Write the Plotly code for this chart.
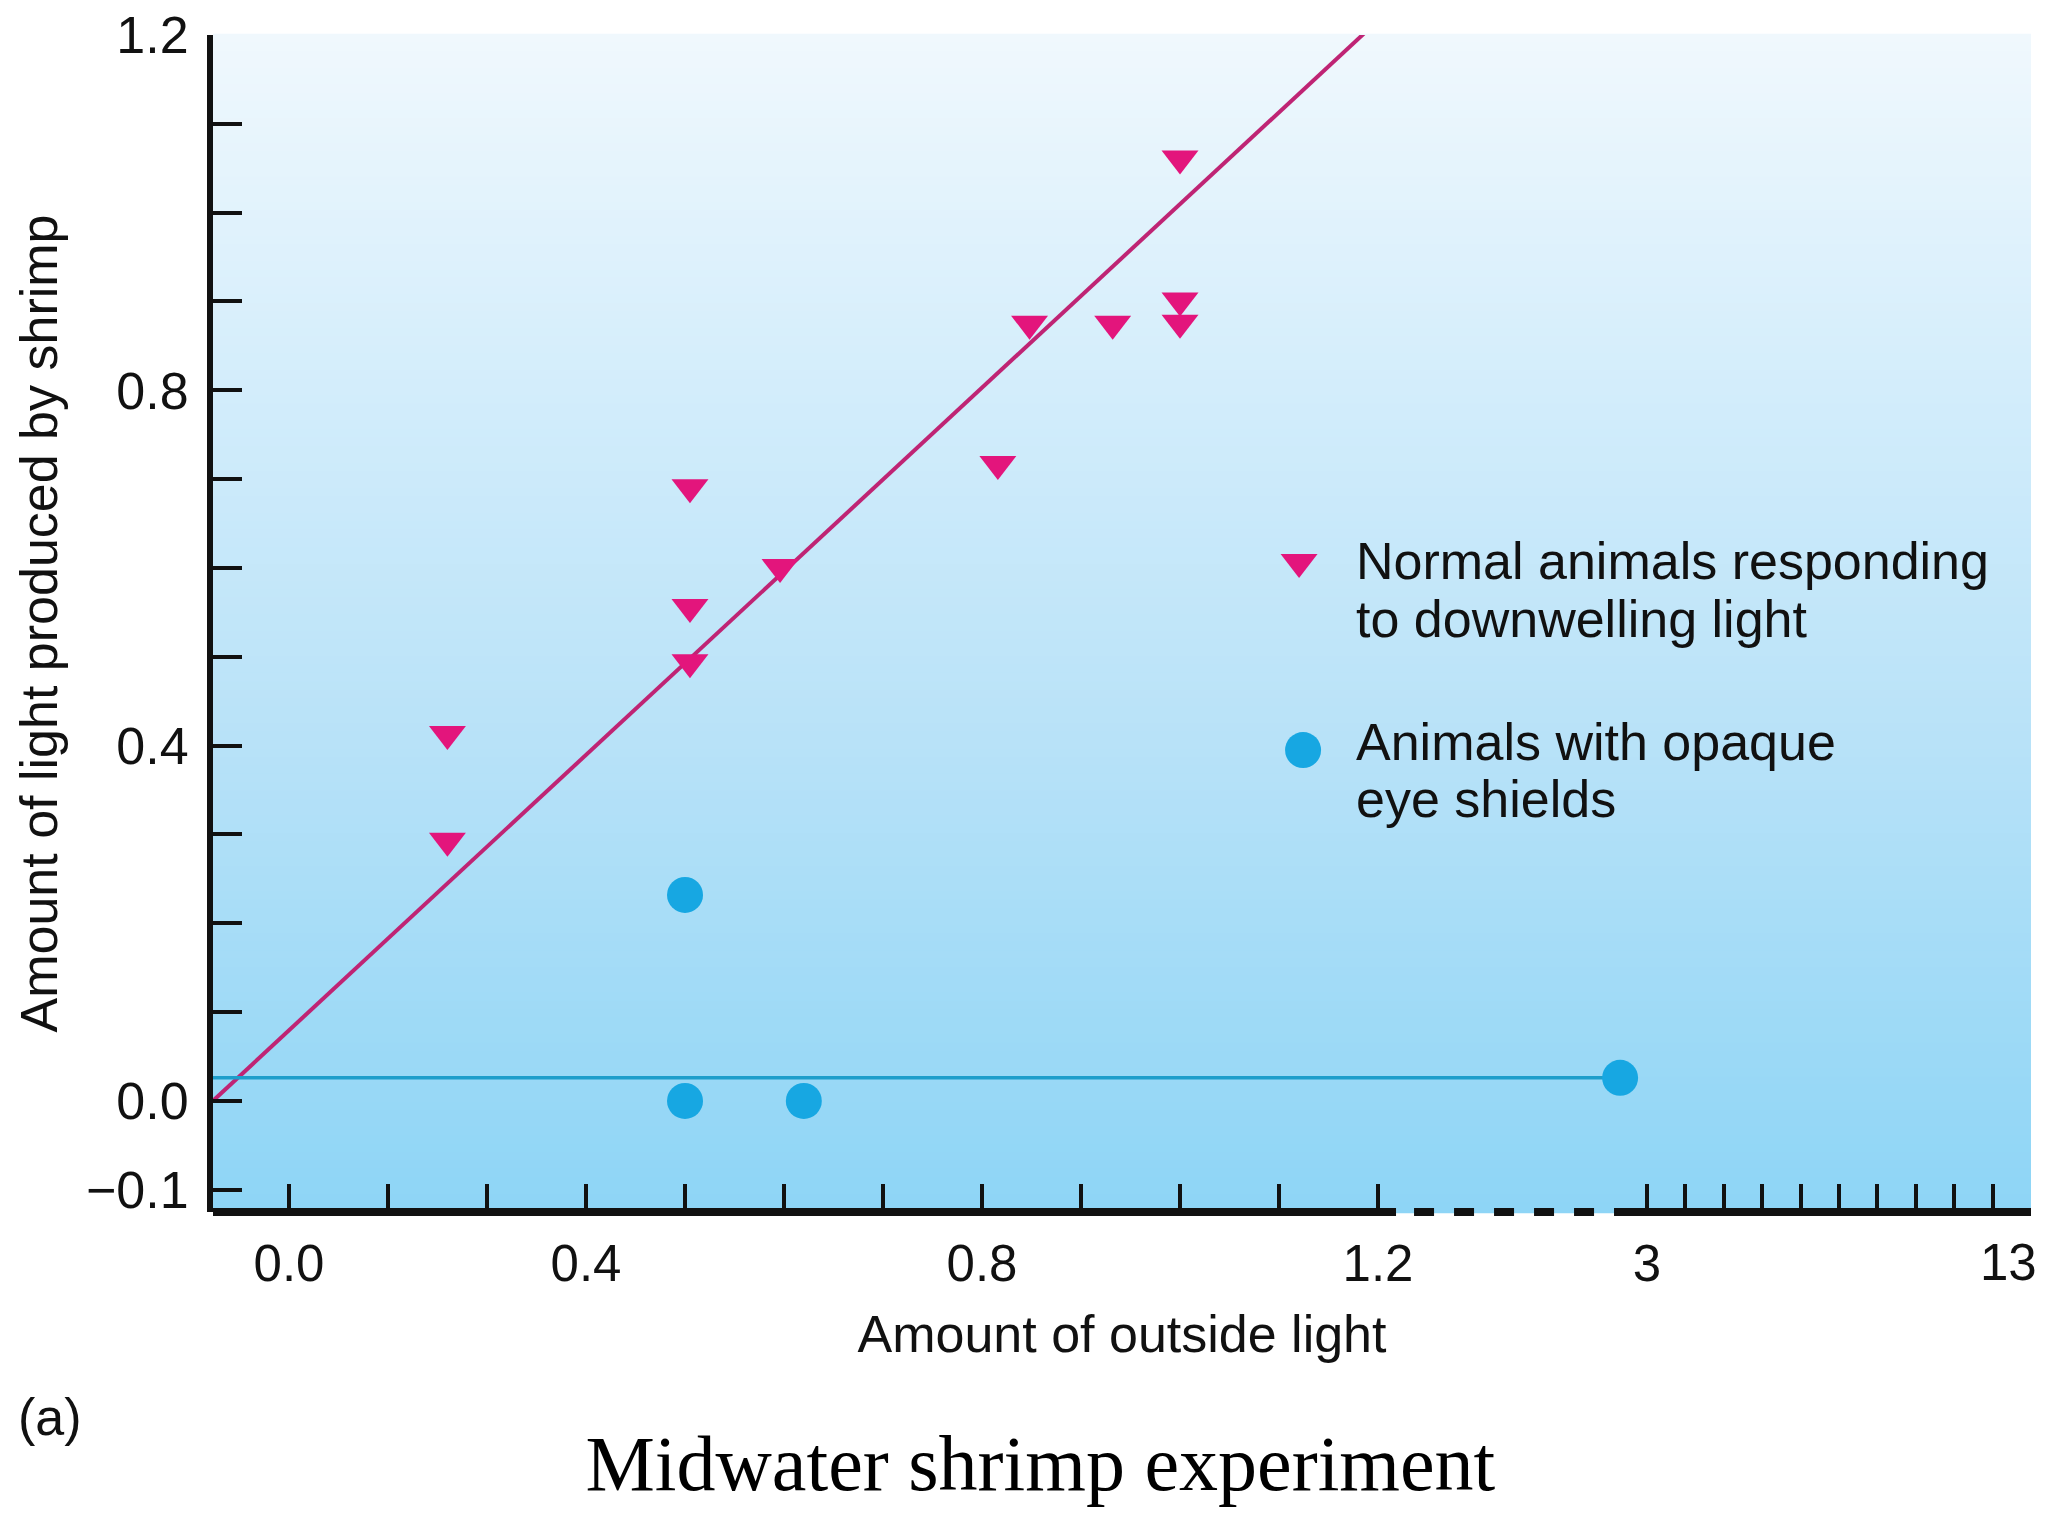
import plotly.graph_objects as go

# ---------------- data ----------------
# x: amount of outside light, y: amount of light produced by shrimp
normal_x = [0.26, 0.26, 0.505, 0.505, 0.505, 0.596, 0.816, 0.848, 0.932, 1.0, 1.0, 1.0]
normal_y = [0.413, 0.293, 0.691, 0.556, 0.494, 0.601, 0.717, 0.875, 0.875, 1.061, 0.901, 0.876]

shield_x = [0.50, 0.50, 0.62, 2.3]
shield_y = [0.232, 0.0, 0.0, 0.026]

normal_fit_x = [0.023, 1.191]
normal_fit_y = [0.0, 1.207]
shield_fit_x = [0.023, 2.3]
shield_fit_y = [0.026, 0.026]

x_tick_values = [0.1, 0.2, 0.3, 0.4, 0.5, 0.6, 0.7, 0.8, 0.9, 1.0, 1.1, 1.2,
                 3, 4, 5, 6, 7, 8, 9, 10, 11, 12, 13]
x_tick_labels = ["0.0", "", "", "0.4", "", "", "", "0.8", "", "", "", "1.2",
                 "3", "", "", "", "", "", "", "", "", "", ""]
x_last_label = "13"   # drawn beside the last tick so it stays inside the page
y_tick_values = [-0.1, 0.0, 0.1, 0.2, 0.3, 0.4, 0.5, 0.6, 0.7, 0.8, 0.9, 1.0, 1.1, 1.2]
y_tick_labels = ["\u22120.1", "0.0", "", "", "", "0.4", "", "", "", "0.8", "", "", "", "1.2"]

legend_labels = [["Normal animals responding", "to downwelling light"],
                 ["Animals with opaque", "eye shields"]]

# ---------------- broken x-axis scale ----------------
X_MIN, X_MAX = 0.0232, 1.8596          # axis position range
LOW_END = 1.2                          # linear part 0 .. 1.2
HIGH_START, HIGH_START_POS, HIGH_UNIT = 3.0, 1.4717, 0.038788  # compressed part 3 .. 13
BREAK_START, DASH_START, BREAK_END = 1.2182, 1.2364, 1.4384


def to_axis(v):
    return v if v <= 2.0 else HIGH_START_POS + (v - HIGH_START) * HIGH_UNIT


def ax_list(vals):
    return [to_axis(v) for v in vals]


def paper_x(pos):
    return (pos - X_MIN) / (X_MAX - X_MIN)


PINK = "#e3157c"
PINK_LINE = "#bf2474"
CYAN = "#17a7e2"
CYAN_LINE = "#1d9ecb"
INK = "#111111"
SANS = "Liberation Sans, Arial, Helvetica, sans-serif"
SERIF = "Liberation Serif, Times New Roman, serif"

fig = go.Figure()

fig.add_trace(go.Scatter(x=ax_list(normal_fit_x), y=normal_fit_y, mode="lines",
                         line=dict(color=PINK_LINE, width=4), showlegend=False, hoverinfo="skip"))
fig.add_trace(go.Scatter(x=ax_list(shield_fit_x), y=shield_fit_y, mode="lines",
                         line=dict(color=CYAN_LINE, width=3.5), showlegend=False, hoverinfo="skip"))
fig.add_trace(go.Scatter(x=ax_list(normal_x), y=normal_y, mode="markers",
                         name="Normal animals responding to downwelling light",
                         marker=dict(symbol="triangle-down", size=32, color=PINK),
                         showlegend=False, cliponaxis=False))
fig.add_trace(go.Scatter(x=ax_list(shield_x), y=shield_y, mode="markers",
                         name="Animals with opaque eye shields",
                         marker=dict(symbol="circle", size=36, color=CYAN),
                         showlegend=False, cliponaxis=False))

# legend keys, placed on a hidden overlay axis in plot-fraction units
legend_key_x = [0.5974, 0.5996]
legend_key_y = [0.5523, 0.3925]
fig.add_trace(go.Scatter(x=[legend_key_x[0]], y=[legend_key_y[0]], xaxis="x2", yaxis="y2",
                         mode="markers", marker=dict(symbol="triangle-down", size=32, color=PINK),
                         showlegend=False, hoverinfo="skip", cliponaxis=False))
fig.add_trace(go.Scatter(x=[legend_key_x[1]], y=[legend_key_y[1]], xaxis="x2", yaxis="y2",
                         mode="markers", marker=dict(symbol="circle", size=36, color=CYAN),
                         showlegend=False, hoverinfo="skip", cliponaxis=False))

# gradient background
stops = [(0.0, (240, 248, 253)), (0.3, (211, 237, 251)), (0.6, (184, 226, 248)),
         (0.9, (152, 216, 246)), (1.0, (142, 213, 246))]


def grad(t):
    for (t0, c0), (t1, c1) in zip(stops[:-1], stops[1:]):
        if t0 <= t <= t1:
            f = (t - t0) / (t1 - t0)
            return "rgb(%d,%d,%d)" % tuple(round(a + (b - a) * f) for a, b in zip(c0, c1))
    return "rgb(%d,%d,%d)" % stops[-1][1]


shapes = []
N = 140
for i in range(N):
    t = (i + 0.5) / N
    shapes.append(dict(type="rect", xref="paper", yref="paper", x0=0, x1=1,
                       y0=1 - (i + 1) / N - 0.001, y1=1 - i / N + 0.001,
                       fillcolor=grad(t), line=dict(width=0), layer="below"))

# x axis line with break
shapes.append(dict(type="line", xref="paper", yref="paper", x0=0, x1=paper_x(BREAK_START),
                   y0=0, y1=0, line=dict(color=INK, width=8)))
shapes.append(dict(type="line", xref="paper", yref="paper", x0=paper_x(DASH_START),
                   x1=paper_x(BREAK_END), y0=0, y1=0,
                   line=dict(color=INK, width=8, dash="20px,20px")))
shapes.append(dict(type="line", xref="paper", yref="paper", x0=paper_x(BREAK_END), x1=1,
                   y0=0, y1=0, line=dict(color=INK, width=8)))

annotations = []
legend_text_y = [[0.5531, 0.5034], [0.3993, 0.3509]]
for lines, ys in zip(legend_labels, legend_text_y):
    for txt, yy in zip(lines, ys):
        annotations.append(dict(text=txt, xref="paper", yref="paper", x=0.6276, y=yy,
                                xanchor="left", yanchor="middle", showarrow=False,
                                font=dict(family=SANS, size=52, color=INK)))
annotations.append(dict(text="(a)", xref="paper", yref="paper", x=-0.1084, y=-0.1742,
                        xanchor="left", yanchor="middle", showarrow=False,
                        font=dict(family=SANS, size=52, color=INK)))
annotations.append(dict(text=x_last_label, xref="paper", yref="paper", x=1.0045, y=-0.0433,
                        xanchor="right", yanchor="middle", showarrow=False,
                        font=dict(family=SANS, size=51, color=INK)))

fig.update_layout(
    width=2048, height=1536, autosize=False,
    margin=dict(l=213, r=17, t=35, b=324),
    paper_bgcolor="white", plot_bgcolor="#b8e2f8",
    shapes=shapes, annotations=annotations,
    title=dict(text="Midwater shrimp experiment", x=0.508, xref="container", xanchor="center",
               y=0.0475, yref="container", yanchor="middle",
               font=dict(family=SERIF, size=78, color="black")),
    xaxis=dict(range=[X_MIN, X_MAX], showline=False, showgrid=False, zeroline=False,
               automargin=False,
               ticks="inside", ticklen=28, tickwidth=4, tickcolor=INK,
               tickmode="array", tickvals=ax_list(x_tick_values), ticktext=x_tick_labels,
               tickfont=dict(family=SANS, size=51, color=INK), ticklabelstandoff=17,
               title=dict(text="Amount of outside light", standoff=24,
                          font=dict(family=SANS, size=52, color=INK))),
    yaxis=dict(range=[-0.125, 1.2], showline=True, linewidth=6, linecolor=INK,
               showgrid=False, zeroline=False, automargin=False,
               ticks="inside", ticklen=29, tickwidth=4, tickcolor=INK,
               tickmode="array", tickvals=y_tick_values, ticktext=y_tick_labels,
               tickfont=dict(family=SANS, size=52, color=INK), ticklabelstandoff=8,
               title=dict(text="Amount of light produced by shrimp", standoff=14,
                          font=dict(family=SANS, size=52, color=INK))),
    xaxis2=dict(overlaying="x", range=[0, 1], visible=False, automargin=False),
    yaxis2=dict(overlaying="y", range=[0, 1], visible=False, automargin=False),
    showlegend=False,
)

fig.write_html("out.html")
